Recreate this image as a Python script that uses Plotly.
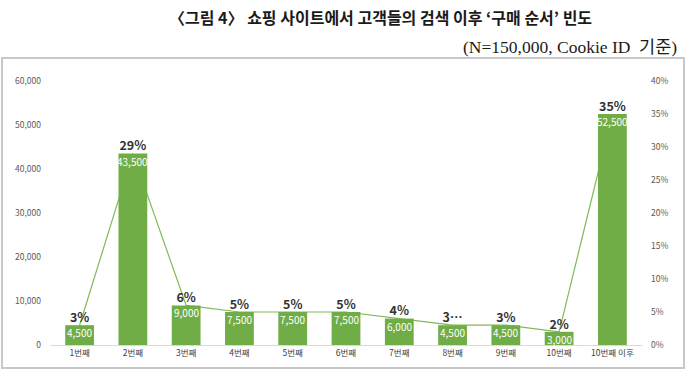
import plotly.graph_objects as go

categories = ["1번째", "2번째", "3번째", "4번째", "5번째", "6번째", "7번째", "8번째", "9번째", "10번째", "10번째 이후"]
counts = [4500, 43500, 9000, 7500, 7500, 7500, 6000, 4500, 4500, 3000, 52500]
shares = [3, 29, 6, 5, 5, 5, 4, 3, 3, 2, 35]
share_labels = ["3%", "29%", "6%", "5%", "5%", "5%", "4%", "3…", "3%", "2%", "35%"]
count_labels = ["4,500", "43,500", "9,000", "7,500", "7,500", "7,500", "6,000", "4,500", "4,500", "3,000", "52,500"]
left_ticks = [0, 10000, 20000, 30000, 40000, 50000, 60000]
right_ticks = [0, 5, 10, 15, 20, 25, 30, 35, 40]

W, H = 687, 372
# frame (paper) edges in pixels
FL, FR, FT, FB = 3, 683, 59, 367
pw, ph = FR - FL, FB - FT
# plot area edges in pixels
PL, PR, PT, PB = 50, 642, 81, 345

def px(x):
    return (x - FL) / pw

def py(y):
    return (FB - y) / ph

KFONT = "Noto Sans CJK KR, Noto Sans, sans-serif"

fig = go.Figure()
fig.add_trace(go.Scatter(
    x=categories, y=shares, xaxis="x", yaxis="y", mode="lines+text",
    line=dict(color="#7FBA55", width=1.2),
    text=[f"<b>{t}</b>" for t in share_labels], textposition="top center",
    textfont=dict(family=KFONT, size=12.5, color="#333333"),
    cliponaxis=False, showlegend=False, hoverinfo="skip",
))
fig.add_trace(go.Bar(
    x=categories, y=counts, xaxis="x", yaxis="y2",
    marker=dict(color="#70AD47", line=dict(width=0)),
    showlegend=False,
))
# invisible trace on frame axes so the frame box is drawn
fig.add_trace(go.Scatter(
    x=[0.5], y=[0.5], xaxis="x2", yaxis="y3", mode="markers",
    marker=dict(opacity=0), showlegend=False, hoverinfo="skip",
))

annotations = [
    dict(text="<b>〈그림 4〉 쇼핑 사이트에서 고객들의 검색 이후 ‘구매 순서’ 빈도</b>",
         xref="paper", yref="paper", x=px(380), y=py(17), xanchor="center", yanchor="middle",
         showarrow=False, font=dict(family=KFONT, size=16, color="#1a1a1a")),
    dict(text="(N=150,000, Cookie ID  기준)",
         xref="paper", yref="paper", x=px(679), y=py(47), xanchor="right", yanchor="middle",
         showarrow=False, font=dict(family="Liberation Serif, Noto Sans CJK KR, serif", size=17.5, color="#1a1a1a")),
]
for c, v, t in zip(categories, counts, count_labels):
    annotations.append(dict(
        text=t, x=c, y=v, xref="x", yref="y2", xanchor="center", yanchor="top",
        yshift=1, borderpad=0, showarrow=False, font=dict(family=KFONT, size=10, color="white"),
    ))

frame_color = "#C8C8C8"
xdom = [px(PL), px(PR)]
ydom = [py(PB), py(PT)]

fig.update_layout(
    width=W, height=H,
    margin=dict(l=FL, r=W - FR, t=FT, b=H - FB, autoexpand=False),
    paper_bgcolor="white", plot_bgcolor="rgba(0,0,0,0)",
    bargap=0.46,
    font=dict(family=KFONT),
    showlegend=False,
    xaxis=dict(
        domain=xdom, anchor="y", automargin=False,
        showgrid=False, showline=True, linecolor="#D9D9D9", linewidth=1,
        tickfont=dict(family=KFONT, size=8.5, color="#404040"),
        ticks="", ticklen=0,
    ),
    yaxis=dict(
        domain=ydom, anchor="x", automargin=False,
        side="right", range=[0, 40], tickvals=right_ticks,
        ticktext=[f"{v}%" for v in right_ticks],
        showgrid=False, zeroline=False, showline=False,
        tickfont=dict(family=KFONT, size=8.5, color="#595959"),
        ticklabelstandoff=8,
    ),
    yaxis2=dict(
        side="left", overlaying="y", anchor="x", automargin=False,
        range=[0, 60000], tickvals=left_ticks,
        ticktext=[f"{v:,}" for v in left_ticks],
        showgrid=False, zeroline=False, showline=False,
        tickfont=dict(family=KFONT, size=8.5, color="#595959"),
        ticklabelstandoff=8,
    ),
    xaxis2=dict(
        domain=[0, 1], anchor="y3", range=[0, 1], showgrid=False, zeroline=False,
        showticklabels=False, ticks="", showline=True, mirror=True, automargin=False,
        linecolor=frame_color, linewidth=1.5, fixedrange=True,
    ),
    yaxis3=dict(
        domain=[0, 1], anchor="x2", range=[0, 1], showgrid=False, zeroline=False,
        showticklabels=False, ticks="", showline=True, mirror=True, automargin=False,
        linecolor=frame_color, linewidth=1.5, fixedrange=True,
    ),
    annotations=annotations,
)

fig.write_html("out.html", config={"displayModeBar": False},
               post_script="document.body.style.margin='0';document.body.style.padding='0';")
